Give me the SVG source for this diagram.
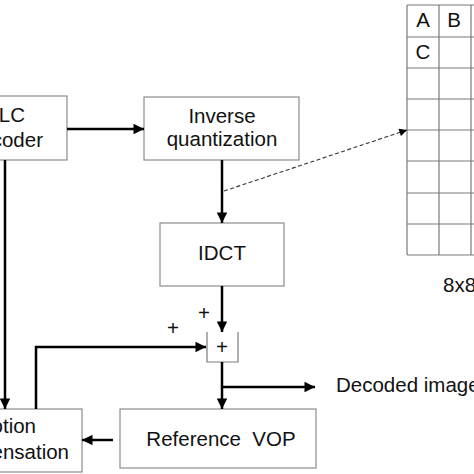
<svg xmlns="http://www.w3.org/2000/svg" width="474" height="474" viewBox="0 0 474 474">
<style>
.box{fill:#fff;stroke:#8c8c8c;stroke-width:1.2}
.t{font-family:"Liberation Sans",Arial,sans-serif;font-size:20.5px;fill:#111}
.c{stroke:#000;stroke-width:2.5;fill:none}
.g{stroke:#7a7a7a;stroke-width:1.2;fill:none}
</style>
<defs>
<marker id="ah" viewBox="0 0 10 10" refX="10" refY="5" markerWidth="4.6" markerHeight="4.2" orient="auto" markerUnits="strokeWidth">
<path d="M0,0 L10,5 L0,10 z" fill="#000"/>
</marker>
<marker id="ad" viewBox="0 0 10 10" refX="10" refY="5" markerWidth="8" markerHeight="7" orient="auto" markerUnits="strokeWidth">
<path d="M0,0 L10,5 L0,10 z" fill="#000"/>
</marker>
</defs>
<rect width="474" height="474" fill="#fff"/>

<g id="vlc">
<rect class="box" x="-20" y="96" width="87" height="64"/>
<text class="t" x="25" y="122" text-anchor="end">VLC</text>
<text class="t" x="43" y="147" text-anchor="end">decoder</text>
</g>
<g id="iq">
<rect class="box" x="144" y="97" width="155" height="63"/>
<text class="t" x="222" y="123" text-anchor="middle">Inverse</text>
<text class="t" x="222" y="146" text-anchor="middle">quantization</text>
</g>
<g id="idct">
<rect class="box" x="160" y="223" width="124" height="63"/>
<text class="t" x="222" y="260" text-anchor="middle">IDCT</text>
</g>
<g id="adder">
<path class="g" d="M207,332 V362 H238 V332"/>
<text class="t" x="222" y="354" text-anchor="middle" font-size="20">+</text>
</g>
<g id="refvop">
<rect class="box" x="120" y="409" width="196" height="59"/>
<text class="t" x="221" y="446" text-anchor="middle" xml:space="preserve">Reference  VOP</text>
</g>
<g id="mc">
<rect class="box" x="-40" y="409" width="122" height="63"/>
<text class="t" x="36" y="433" text-anchor="end">Motion</text>
<text class="t" x="69" y="459" text-anchor="end">compensation</text>
</g>
<g id="grid">
<path class="g" d="M407,5 V255 M439,5 V255 M471,5 V255 M407,5 H474 M407,37 H474 M407,68 H474 M407,99 H474 M407,130 H474 M407,161 H474 M407,193 H474 M407,224 H474 M407,255 H474"/>
<text class="t" x="423" y="27" text-anchor="middle">A</text>
<text class="t" x="454" y="27" text-anchor="middle">B</text>
<text class="t" x="423" y="59" text-anchor="middle">C</text>
<text class="t" x="443" y="292">8x8</text>
</g>
<g id="labels">
<text class="t" x="204" y="320" text-anchor="middle" font-size="22">+</text>
<text class="t" x="173" y="335" text-anchor="middle" font-size="22">+</text>
<text class="t" x="336" y="392">Decoded image</text>
</g>
<g id="connectors">
<path class="c" d="M67,129 H144" marker-end="url(#ah)"/>
<path class="c" d="M222,160 V223" marker-end="url(#ah)"/>
<path class="c" d="M222,286 V332" marker-end="url(#ah)"/>
<path class="c" d="M222,362 V409" marker-end="url(#ah)"/>
<path class="c" d="M222,387 H315" marker-end="url(#ah)"/>
<path class="c" d="M5,160 V409" marker-end="url(#ah)"/>
<path class="c" d="M36,409 V347 H206" marker-end="url(#ah)"/>
<path class="c" d="M113,440 H82" marker-end="url(#ah)"/>
<path d="M224,191 L407,130" stroke="#333" stroke-width="1.1" stroke-dasharray="4,2.5" fill="none" marker-end="url(#ad)"/>
</g>
</svg>
